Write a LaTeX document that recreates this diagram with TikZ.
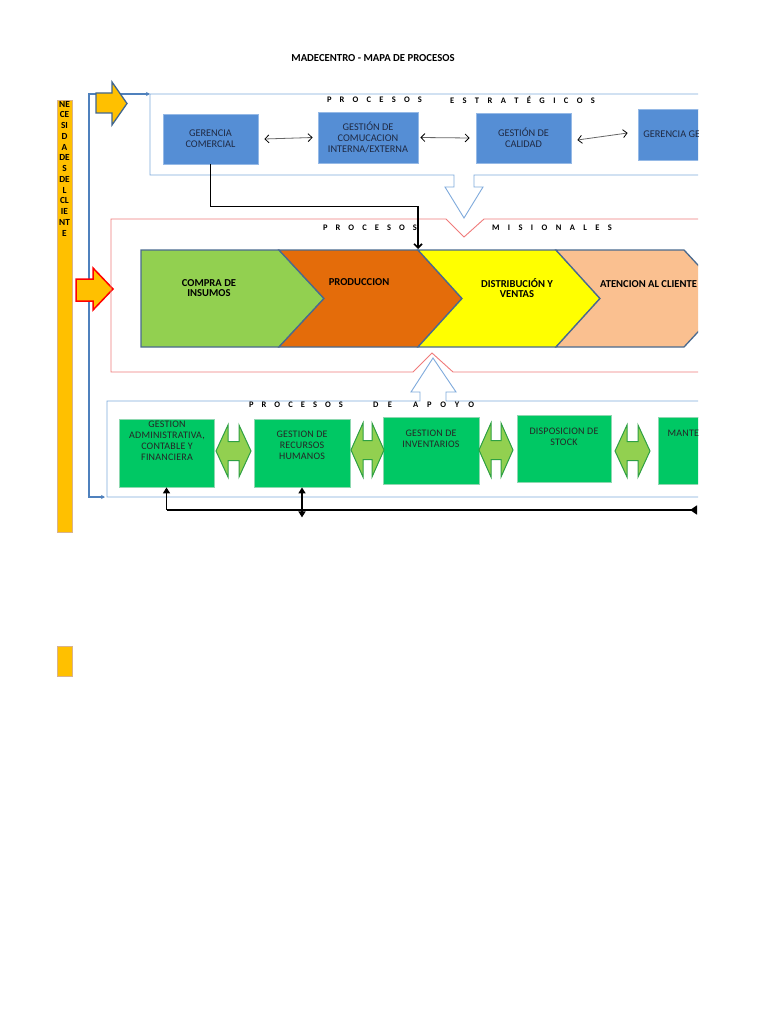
\documentclass[tikz,border=0pt]{standalone}
\usepackage{fontspec}
\setmainfont{Carlito}
\usetikzlibrary{arrows.meta}
\definecolor{stratfill}{HTML}{558ED5}
\definecolor{stratedge}{HTML}{95B9E6}
\definecolor{lblue}{HTML}{7FAADC}
\definecolor{midblue}{HTML}{4F81BD}
\definecolor{lred}{HTML}{F07A7A}
\definecolor{gold}{HTML}{FFC000}
\definecolor{goldedge}{HTML}{D9B38C}
\definecolor{apgreen}{HTML}{00C864}
\definecolor{apedge}{HTML}{8ED8B0}
\definecolor{lgreen}{HTML}{92D050}
\definecolor{dgreen}{HTML}{2EA043}
\definecolor{chevedge}{HTML}{4A6A8F}
\definecolor{corange}{HTML}{E46C0A}
\definecolor{cyellow}{HTML}{FFFF00}
\definecolor{cpeach}{HTML}{FAC090}
\definecolor{slateedge}{HTML}{41668F}
\definecolor{navytext}{HTML}{1F2A44}
\newcommand\dblgreenarrow[4]{%
  \fill[lgreen,draw=dgreen,line width=1pt]
    (#1,{(#3+#4)/2}) -- ({#1+12},#3) -- ({#1+12},{(#3+#4)/2-9.5}) --
    ({#2-12},{(#3+#4)/2-9.5}) -- ({#2-12},#3) -- (#2,{(#3+#4)/2}) --
    ({#2-12},#4) -- ({#2-12},{(#3+#4)/2+9.5}) -- ({#1+12},{(#3+#4)/2+9.5}) --
    ({#1+12},#4) -- cycle;}
\begin{document}
\begin{tikzpicture}[x=1pt,y=-1pt,
  stratbox/.style={draw=stratedge,fill=stratfill,line width=0.8pt,inner sep=0pt,
    align=center,text=navytext,font=\fontsize{10.3}{11}\selectfont},
  apbox/.style={draw=apedge,fill=apgreen,line width=0.8pt,inner sep=0pt},
  aptext/.style={inner sep=0pt,align=center,text=black!85,font=\addfontfeature{LetterSpace=2}\fontsize{10}{11}\selectfont},
  chevtext/.style={inner sep=0pt,align=center,font=\bfseries\fontsize{10.6}{10.5}\selectfont},
  head/.style={inner sep=0pt,font=\bfseries\fontsize{8.5}{9}\selectfont},
  goldbox/.style={fill=gold,draw=goldedge,line width=0.6pt,inner sep=0pt},
  sarrow/.style={draw=black!60,line width=0.8pt,{Straight Barb[length=4pt,width=8pt,black]}-{Straight Barb[length=4pt,width=8pt,black]}},
  blk/.style={draw=black,line width=1.6pt},
  outl/.style={line width=0.9pt},
]
\fill[white] (0,0) rectangle (768,1024);
\useasboundingbox (0,0) rectangle (768,1024);
\begin{scope}
\clip (0,0) rectangle (698,1024);

% title
\node[inner sep=0pt,font=\bfseries\fontsize{10.7}{11}\selectfont] (title) at (373,58) {MADECENTRO - MAPA DE PROCESOS};

% left strip
\node[goldbox,minimum width=15pt,minimum height=432pt] (need) at (64.5,316) {};
\node[inner sep=0pt,align=center,anchor=north,font=\bfseries\fontsize{9.3}{10.75}\selectfont] (needt) at (64.5,101)
  {NE\\CE\\SI\\D\\A\\DE\\S\\DE\\L\\CL\\IE\\NT\\E};
\node[goldbox,minimum width=15pt,minimum height=30pt] (need2) at (64.5,661) {};

% blue L connector
\coordinate (lt) at (150,94);
\coordinate (spine) at (89,300);
\coordinate (lb) at (105,497);
\draw[midblue,line width=1.2pt,-{Stealth[length=4pt,width=4pt]}] (spine) |- (lt);
\draw[midblue,line width=1.2pt,-{Stealth[length=4pt,width=4pt]}] (spine) |- (lb);

% block arrows left
\fill[gold,draw=slateedge,line width=1.3pt] (96,93) -- (112,93) -- (112,82) -- (127,103.5) -- (112,125) -- (112,113) -- (96,113) -- cycle;
\fill[gold,draw=red,line width=1.5pt] (76,279) -- (93,279) -- (93,268) -- (113,289) -- (93,310) -- (93,301) -- (76,301) -- cycle;

% strategic outline
\draw[lblue,outl] (700,94) -- (150,94) -- (150,175) -- (454,175) -- (454,187) -- (445,187) -- (464,218) -- (483,187) -- (474,187) -- (474,175) -- (700,175);
% misionales outline
\draw[lred,outl] (700,219) -- (484,219) -- (464,237) -- (446,219) -- (111,219) -- (111,372) -- (413,372) -- (432,353) -- (453,372) -- (700,372);
% apoyo outline
\draw[lblue,outl] (700,401) -- (446,401) -- (446,392) -- (456,392) -- (433,358) -- (411,392) -- (420,392) -- (420,401) -- (107,401) -- (107,497) -- (700,497);

% headings
\node[head] (h1a) at (374.5,100) {\makebox[95pt][s]{P R O C E S O S}};
\node[head] (h1b) at (522.5,100) {\makebox[145pt][s]{E S T R A T É G I C O S}};
\node[head] (h2a) at (370,228) {\makebox[94pt][s]{P R O C E S O S}};
\node[head] (h2b) at (552,228) {\makebox[120pt][s]{M I S I O N A L E S}};
\node[head] (h3a) at (296,405) {\makebox[94pt][s]{P R O C E S O S}};
\node[head] (h3b) at (382.5,405) {\makebox[19pt][s]{D E}};
\node[head] (h3c) at (443.5,405) {\makebox[61pt][s]{A P O Y O}};

% strategic boxes
\node[stratbox,minimum width=95pt,minimum height=50pt] (gc) at (210.5,139) {GERENCIA\\COMERCIAL};
\node[stratbox,minimum width=100pt,minimum height=51pt] (gci) at (368,137.5) {GESTIÓN DE\\COMUCACION\\INTERNA/EXTERNA};
\node[stratbox,minimum width=95pt,minimum height=50pt] (gca) at (523.5,138) {GESTIÓN DE\\CALIDAD};
\node[stratbox,minimum width=95pt,minimum height=51pt] (gg) at (685.5,134.5) {GERENCIA GENERAL};
\draw[sarrow] ([xshift=6pt]gc.east) -- ([xshift=-5pt]gci.west);
\draw[sarrow] ([xshift=2pt]gci.east) -- ([xshift=-6pt]gca.west);
\draw[sarrow] ([xshift=6pt,yshift=-2pt]gca.east) -- ([xshift=-10pt,yshift=1.5pt]gg.west);

% chevrons
\fill[lgreen,draw=chevedge,line width=1.3pt] (141,250) -- (279,250) -- (324,298.5) -- (279,347) -- (141,347) -- cycle;
\fill[corange,draw=chevedge,line width=1.3pt] (279,250) -- (418,250) -- (462,298.5) -- (418,347) -- (279,347) -- (324,298.5) -- cycle;
\fill[cyellow,draw=chevedge,line width=1.3pt] (418,250) -- (556,250) -- (600,298.5) -- (556,347) -- (418,347) -- (462,298.5) -- cycle;
\fill[cpeach,draw=chevedge,line width=1.3pt] (556,250) -- (684,250) -- (729,298.5) -- (684,347) -- (556,347) -- (600,298.5) -- cycle;
\node[chevtext] (cv1) at (209,288) {COMPRA DE\\INSUMOS};
\node[chevtext] (cv2) at (359,282) {PRODUCCION};
\node[chevtext] (cv3) at (517,288) {DISTRIBUCIÓN Y\\VENTAS};
\node[chevtext,anchor=west] (cv4) at (600,284) {ATENCION AL CLIENTE};

% black connector from gerencia comercial
\coordinate (prodtop) at (418,249);
\draw[blk,-{Straight Barb[length=4pt,width=8pt]}] (gc.south) -- ++(0,42) -| (prodtop);

% apoyo boxes
\node[apbox,minimum width=95pt,minimum height=68pt] (ga1) at (166.5,453) {};
\node[apbox,minimum width=96pt,minimum height=68pt] (ga2) at (302,453) {};
\node[apbox,minimum width=96pt,minimum height=67pt] (ga3) at (431,450.5) {};
\node[apbox,minimum width=94pt,minimum height=67pt] (ga4) at (564,448.5) {};
\node[apbox,minimum width=95pt,minimum height=67pt] (ga5) at (705.5,450.5) {};
\node[aptext] (ga1t) at (167,440.5) {GESTION\\ADMINISTRATIVA,\\CONTABLE Y\\FINANCIERA};
\node[aptext] (ga2t) at (302,445.5) {GESTION DE\\RECURSOS\\HUMANOS};
\node[aptext] (ga3t) at (431,438.5) {GESTION DE\\INVENTARIOS};
\node[aptext] (ga4t) at (564,437) {DISPOSICION DE\\STOCK};
\node[aptext] (ga5t) at (705.5,433) {MANTENIMIENTO};

\dblgreenarrow{216}{251}{425}{477}
\dblgreenarrow{351}{384}{423}{477}
\dblgreenarrow{479}{513}{423}{477}
\dblgreenarrow{615}{650}{425}{477}

% bottom connectors
\coordinate (busL) at (166.5,510);
\coordinate (busR) at (697,510);
\draw[blk,-{Triangle[length=6pt,width=7pt]}] (busL) -- (ga1.south);
\draw[blk,-{Triangle[length=7pt,width=9pt,reversed]}] (busL) -- (busR);
\draw[blk,{Triangle[length=6pt,width=7pt]}-{Triangle[length=6pt,width=7pt]}] (ga2.south) -- ++(0,30);
\end{scope}
\end{tikzpicture}
\end{document}
